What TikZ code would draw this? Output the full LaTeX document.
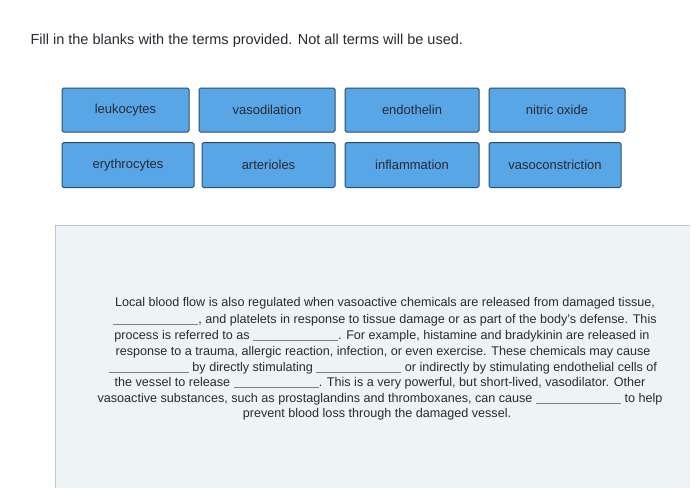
\documentclass[tikz,border=0pt]{standalone}
\usepackage{fontspec}
\setmainfont{Liberation Sans}
\definecolor{boxfill}{HTML}{58A6E6}
\definecolor{boxline}{HTML}{2E4E70}
\definecolor{txt}{HTML}{2A2A33}
\definecolor{panel}{HTML}{EEF3F5}
\definecolor{panelline}{HTML}{B8C8D0}
\newcommand{\blank}[1]{\textcolor{gray}{\rule[-1.5pt]{#1pt}{0.5pt}}}
\tikzset{term/.style={draw=boxline,line width=1pt,fill=boxfill,rounded corners=1.5pt,text=txt,font=\fontsize{13}{15}\selectfont},
 para/.style={anchor=center,text=txt,font=\fontsize{12.6}{14}\selectfont,inner sep=0pt}}
\begin{document}
\begin{tikzpicture}[x=1pt,y=-1pt]
\useasboundingbox (0,0) rectangle (700,488);
\fill[white] (0,0) rectangle (700,488);
\fill[panel] (55,225) rectangle (690,488);
\draw[panelline] (55,488) -- (55,225) -- (690,225);
\node[anchor=west,text=txt,font=\fontsize{14.5}{16}\selectfont] (hdr) at (27,41) {Fill in the blanks with the terms provided. Not all terms will be used.};
\node[term,minimum width=127,minimum height=44] (t1) at (125.5,110) {leukocytes};
\node[term,minimum width=136,minimum height=44] (t2) at (267,110) {vasodilation};
\node[term,minimum width=134,minimum height=44] (t3) at (412,110) {endothelin};
\node[term,minimum width=136,minimum height=44] (t4) at (557,110) {nitric oxide};
\node[term,minimum width=132,minimum height=45] (t5) at (128,165) {erythrocytes};
\node[term,minimum width=133,minimum height=45] (t6) at (268.5,165) {arterioles};
\node[term,minimum width=134,minimum height=45] (t7) at (412,165) {inflammation};
\node[term,minimum width=132,minimum height=45] (t8) at (555,165) {vasoconstriction};
\node[para] (l1) at (385,303) {Local blood flow is also regulated when vasoactive chemicals are released from damaged tissue,};
\node[para] (l2) at (385,320) {\blank{85}, and platelets in response to tissue damage or as part of the body's defense. This};
\node[para] (l3) at (382,336) {process is referred to as \blank{85}. For example, histamine and bradykinin are released in};
\node[para] (l4) at (383,352) {response to a trauma, allergic reaction, infection, or even exercise. These chemicals may cause};
\node[para] (l5) at (383,368) {\blank{80} by directly stimulating \blank{85} or indirectly by stimulating endothelial cells of};
\node[para] (l6) at (380,383) {the vessel to release \blank{85}. This is a very powerful, but short-lived, vasodilator. Other};
\node[para] (l7) at (380,399) {vasoactive substances, such as prostaglandins and thromboxanes, can cause \blank{85} to help};
\node[para] (l8) at (377,414) {prevent blood loss through the damaged vessel.};
\end{tikzpicture}
\end{document}
